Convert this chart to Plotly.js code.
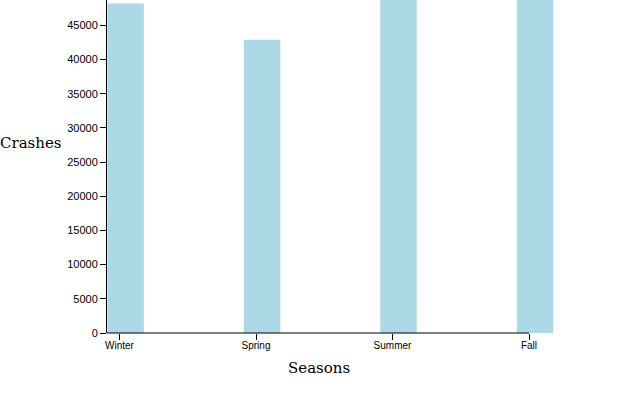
<!DOCTYPE html>
<html>
<head>
<meta charset="utf-8">
<script src="https://cdn.plot.ly/plotly-3.0.1.min.js"></script>
<style>
  html, body { margin: 0; padding: 0; background: #fff; }
  #chart { width: 640px; height: 400px; }
</style>
</head>
<body>
<div id="chart"></div>
<script>
// Data (Summer and Fall exceed the visible range)
const seasons = ['Winter', 'Spring', 'Summer', 'Fall'];
const crashes = [48200, 42870, 52500, 51500];
const yTickVals = [0, 5000, 10000, 15000, 20000, 25000, 30000, 35000, 40000, 45000];

const xStart = -0.0916;              // axis starts a little before the first category
const xEnd = xStart + 453 / 136.5;   // plot area extends past the last bar
const xLineEnd = seasons.length - 1; // visible axis line stops at the last tick

const trace = {
  type: 'bar',
  x: seasons,
  y: crashes,
  marker: { color: '#add8e6', line: { width: 0 } },
  width: 0.267,
  offset: -0.089,
  hoverinfo: 'x+y'
};

const layout = {
  width: 640,
  height: 400,
  margin: { l: 107, r: 80, t: 0, b: 67, pad: 0 },
  paper_bgcolor: '#fff',
  plot_bgcolor: '#fff',
  showlegend: false,
  xaxis: {
    type: 'category',
    categoryorder: 'array',
    categoryarray: seasons,
    range: [xStart, xEnd],
    showline: false,
    ticks: 'outside',
    ticklen: 6,
    tickcolor: '#000',
    tickwidth: 1,
    ticklabelstandoff: -3,
    showgrid: false,
    zeroline: false,
    tickfont: { family: 'Liberation Sans, Arial, sans-serif', size: 10, color: '#000' }
  },
  yaxis: {
    range: [0, 48700],
    tickvals: yTickVals,
    ticktext: yTickVals.map(String),
    showline: true,
    linecolor: '#000',
    linewidth: 1,
    ticks: 'outside',
    ticklen: 6,
    tickcolor: '#000',
    tickwidth: 1,
    showgrid: false,
    zeroline: false,
    tickfont: { family: 'Liberation Sans, Arial, sans-serif', size: 11, color: '#000' }
  },
  shapes: [
    {
      type: 'line',
      xref: 'x', yref: 'paper',
      x0: xStart, x1: xLineEnd, y0: 0, y1: 0,
      line: { color: '#000', width: 1 },
      layer: 'above'
    }
  ],
  annotations: [
    {
      text: 'Crashes',
      xref: 'paper', yref: 'paper',
      x: -0.2405, y: 0.571,
      xanchor: 'left', yanchor: 'middle',
      showarrow: false,
      font: { family: 'DejaVu Serif, serif', size: 15, color: '#000' }
    },
    {
      text: 'Seasons',
      xref: 'paper', yref: 'paper',
      x: 211.5 / 453, y: -0.105,
      xanchor: 'center', yanchor: 'middle',
      showarrow: false,
      font: { family: 'DejaVu Serif, serif', size: 15, color: '#000' }
    }
  ]
};

Plotly.newPlot('chart', [trace], layout, { displayModeBar: false, staticPlot: true });
</script>
</body>
</html>
